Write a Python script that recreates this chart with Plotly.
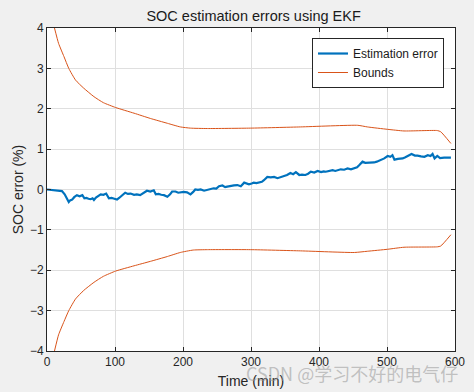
import plotly.graph_objects as go

# Estimation error (%)
err_t = [0, 8, 17, 22, 26, 30, 32, 34, 37, 40, 44, 48, 52, 55, 58, 61, 64, 67, 69, 72, 75, 79, 83, 87, 91, 95, 99, 103,
         106, 109, 112, 115, 119, 123, 128, 132, 137, 141, 144, 147, 152, 157, 160, 164, 168, 172, 177, 181, 184, 189,
         193, 196, 201, 206, 211, 215, 218, 222, 226, 231, 236, 241, 245, 249, 253, 258, 262, 265, 270, 275, 280, 285,
         290, 294, 297, 301, 304, 308, 312, 316, 319, 322, 324, 329, 334, 339, 344, 349, 353, 358, 362, 366, 371, 375,
         380, 384, 388, 393, 398, 403, 407, 410, 415, 420, 424, 427, 432, 437, 442, 447, 452, 456, 459, 462, 464, 468,
         471, 476, 481, 485, 488, 492, 496, 501, 505, 508, 511, 516, 523, 527, 530, 533, 536, 541, 545, 550, 555, 560,
         564, 567, 570, 574, 578, 584, 590, 594]
err_v = [0.0, -0.01, -0.03, -0.04, -0.12, -0.24, -0.31, -0.27, -0.25, -0.19, -0.14, -0.17, -0.14, -0.22, -0.21, -0.23,
         -0.24, -0.22, -0.26, -0.2, -0.17, -0.12, -0.13, -0.1, -0.22, -0.21, -0.23, -0.25, -0.21, -0.17, -0.14, -0.08,
         -0.11, -0.1, -0.13, -0.12, -0.14, -0.1, -0.08, -0.03, -0.05, -0.02, -0.12, -0.11, -0.13, -0.14, -0.18, -0.12,
         -0.05, -0.05, -0.08, -0.07, -0.06, -0.07, -0.12, -0.06, 0.0, -0.01, 0.0, -0.03, -0.01, 0.0, 0.03, 0.02, 0.08,
         0.1, 0.06, 0.07, 0.09, 0.1, 0.11, 0.08, 0.17, 0.14, 0.13, 0.15, 0.17, 0.16, 0.17, 0.19, 0.23, 0.27, 0.31, 0.3,
         0.31, 0.28, 0.31, 0.33, 0.36, 0.41, 0.38, 0.43, 0.36, 0.37, 0.36, 0.39, 0.44, 0.42, 0.46, 0.43, 0.45, 0.44, 0.46,
         0.48, 0.46, 0.48, 0.5, 0.49, 0.52, 0.5, 0.52, 0.55, 0.6, 0.64, 0.69, 0.66, 0.66, 0.67, 0.67, 0.69, 0.71, 0.73,
         0.77, 0.83, 0.81, 0.85, 0.74, 0.76, 0.77, 0.8, 0.83, 0.86, 0.88, 0.84, 0.84, 0.82, 0.81, 0.85, 0.83, 0.88, 0.77,
         0.83, 0.78, 0.79, 0.79, 0.79]

# Upper bound (%)
up_t = [11, 17, 25, 32, 42, 54, 69, 83, 101, 128, 152, 177, 196, 211, 236, 299, 373, 457, 471, 501, 525, 574, 579, 594]
up_v = [4.0, 3.62, 3.29, 3.0, 2.71, 2.51, 2.3, 2.15, 2.03, 1.89, 1.76, 1.64, 1.55, 1.52, 1.51, 1.52, 1.55, 1.59, 1.55,
        1.49, 1.45, 1.46, 1.43, 1.14]
# Lower bound (%)
lo_t = [11, 17, 25, 32, 42, 54, 69, 83, 101, 128, 152, 177, 196, 215, 236, 299, 373, 452, 471, 501, 525, 574, 579, 594]
lo_v = [-4.0, -3.6, -3.27, -3.0, -2.71, -2.5, -2.3, -2.15, -2.02, -1.89, -1.78, -1.66, -1.56, -1.5, -1.49, -1.49,
        -1.52, -1.56, -1.53, -1.48, -1.43, -1.42, -1.4, -1.12]

x_ticks = [0, 100, 200, 300, 400, 500, 600]
y_ticks = [-4, -3, -2, -1, 0, 1, 2, 3, 4]

BLUE = "#0072BD"
ORANGE = "#D95319"
FONT = "Liberation Sans, Arial"

fig = go.Figure()
fig.add_trace(go.Scatter(x=err_t, y=err_v, mode="lines", name="Estimation error",
                         line=dict(color=BLUE, width=2.2)))
fig.add_trace(go.Scatter(x=up_t, y=up_v, mode="lines", name="Bounds",
                         line=dict(color=ORANGE, width=1, shape="spline", smoothing=0.5)))
fig.add_trace(go.Scatter(x=lo_t, y=lo_v, mode="lines", name="Bounds", showlegend=False,
                         line=dict(color=ORANGE, width=1, shape="spline", smoothing=0.5)))

axis_common = dict(showline=True, linecolor="#262626", linewidth=1, mirror="ticks",
                   ticks="inside", ticklen=4, tickcolor="#262626", automargin=False,
                   showgrid=True, gridcolor="#dfdfdf", gridwidth=1, zeroline=False,
                   tickfont=dict(family=FONT, size=12, color="#262626"))

fig.update_layout(
    width=474, height=392,
    paper_bgcolor="#f0f0f0", plot_bgcolor="white",
    margin=dict(l=47, r=19, t=28, b=41, autoexpand=False),
    title=dict(text="SOC estimation errors using EKF", x=0.535, xanchor="center", y=0.959, yanchor="middle",
               font=dict(family=FONT, size=14.5, color="#1a1a1a")),
    xaxis=dict(range=[0, 600], tickvals=x_ticks, title=dict(text="Time (min)", standoff=7,
               font=dict(family=FONT, size=14, color="#262626")), **axis_common),
    yaxis=dict(range=[-4, 4], tickvals=y_ticks, title=dict(text="SOC error (%)", standoff=3,
               font=dict(family=FONT, size=14, color="#262626")), **axis_common),
    legend=dict(x=0.973, y=0.969, xanchor="right", yanchor="top", bgcolor="white",
                bordercolor="#262626", borderwidth=1, tracegroupgap=0,
                font=dict(family=FONT, size=12, color="#1a1a1a")),
    showlegend=True,
)

fig.add_annotation(text="CSDN @学习不好的电气仔", xref="paper", yref="paper", x=1.012, y=-0.068,
                   xanchor="right", yanchor="middle", showarrow=False,
                   font=dict(family="Noto Sans CJK SC", size=18, color="rgba(150,150,150,0.55)"))

fig.write_html("out.html", config={"displayModeBar": False},
               post_script="document.body.style.margin='0';document.body.style.overflow='hidden';")
